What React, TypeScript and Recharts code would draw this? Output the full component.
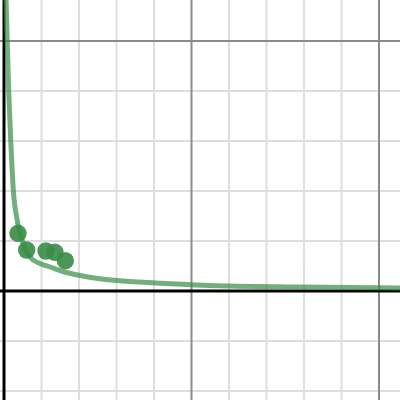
import React from "react";
import {
  ComposedChart, Line, Scatter, XAxis, YAxis, ReferenceLine,
} from "recharts";

// grid positions in graph units (x minor step = 1, y minor step = 1)
const X_MINOR = [1, 2, 3, 4, 6, 7, 8, 9];
const X_MAJOR = [5, 10];
const Y_MINOR = [-2, -1, 1, 2, 3, 4];
const Y_MAJOR = [5];

// fitted curve
const CURVE_X = [0.04, 0.085, 0.125, 0.18, 0.25, 0.35, 0.48, 0.69, 0.96, 1.23, 1.49, 2.03, 2.56, 3.09, 3.63, 4.16, 5.49, 7.89, 10.6];
const CURVE_Y = [6.2, 5.0, 4.0, 3.0, 2.0, 1.42, 1.02, 0.68, 0.55, 0.48, 0.41, 0.31, 0.245, 0.205, 0.178, 0.153, 0.11, 0.08, 0.06];

// observed points
const POINT_X = [0.373, 0.605, 1.12, 1.36, 1.635];
const POINT_Y = [1.154, 0.82, 0.8, 0.774, 0.606];

const curve = CURVE_X.map((x, i) => ({ x, y: CURVE_Y[i] }));
const points = POINT_X.map((x, i) => ({ x, y: POINT_Y[i] }));

const GREEN = "#388c46";

const Dot = (props: any) => (
  <circle cx={props.cx} cy={props.cy} r={8.7} fill={GREEN} fillOpacity={0.9} />
);

export default function App() {
  return (
    <div style={{ position: "fixed", left: 0, top: 0, width: 400, height: 400, background: "#fff" }}>
      <ComposedChart width={400} height={400} margin={{ top: 0, right: 0, bottom: 0, left: 0 }}>
        <XAxis type="number" dataKey="x" domain={[-0.107, 10.56]} allowDataOverflow hide />
        <YAxis type="number" dataKey="y" domain={[-2.18, 5.82]} allowDataOverflow hide />
        {X_MINOR.map((v) => (
          <ReferenceLine key={"xm" + v} x={v} stroke="#dedede" strokeWidth={2} />
        ))}
        {Y_MINOR.map((v) => (
          <ReferenceLine key={"ym" + v} y={v} stroke="#dedede" strokeWidth={2} />
        ))}
        {X_MAJOR.map((v) => (
          <ReferenceLine key={"xM" + v} x={v} stroke="#8a8a8a" strokeWidth={2} />
        ))}
        {Y_MAJOR.map((v) => (
          <ReferenceLine key={"yM" + v} y={v} stroke="#8a8a8a" strokeWidth={2} />
        ))}
        <ReferenceLine x={0} stroke="#000" strokeWidth={3} />
        <ReferenceLine y={0} stroke="#000" strokeWidth={3} />
        <Line
          data={curve}
          dataKey="y"
          type="monotone"
          stroke={GREEN}
          strokeOpacity={0.7}
          strokeWidth={5}
          dot={false}
          isAnimationActive={false}
        />
        <Scatter data={points} dataKey="y" shape={Dot} isAnimationActive={false} />
      </ComposedChart>
    </div>
  );
}
